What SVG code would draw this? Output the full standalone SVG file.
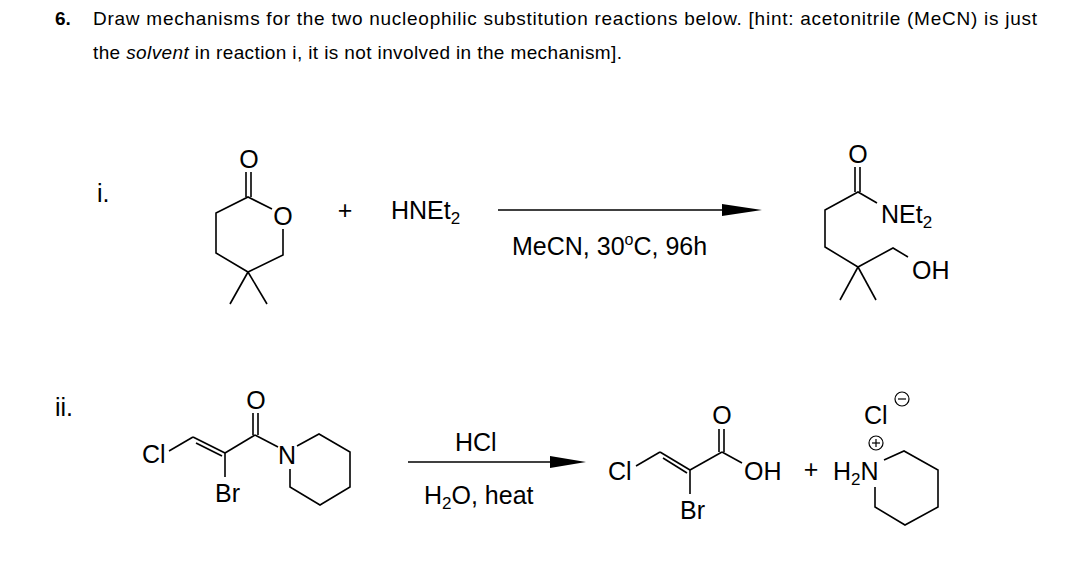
<svg xmlns="http://www.w3.org/2000/svg" width="1070" height="581" viewBox="0 0 1070 581">
<defs>
<style>
text{font-family:"Liberation Sans",Arial,sans-serif;fill:#000}
.h{font-size:19px}
.c{font-size:25px}
.s{font-size:17px}
line,polyline{stroke:#000;stroke-width:1.6;fill:none}
.ah{fill:#000;stroke:none}
</style>
</defs>
<rect width="1070" height="581" fill="#fff"/>
<text class="h" x="55" y="25" font-weight="bold">6.</text>
<text class="h" x="93" y="25" textLength="944">Draw mechanisms for the two nucleophilic substitution reactions below. [hint: acetonitrile (MeCN) is just</text>
<text class="h" x="93" y="59" textLength="529">the <tspan font-style="italic">solvent</tspan> in reaction i, it is not involved in the mechanism].</text>

<g id="lactone">
<text class="c" x="97" y="202">i.</text>
<text class="c" x="249" y="168" text-anchor="middle">O</text>
<line x1="246" y1="172" x2="246" y2="197"/><line x1="251" y1="172" x2="251" y2="197"/>
<polyline points="272,209 248,197 216,213 216,253 248,272 283,255 283,229"/>
<text class="c" x="283" y="225" text-anchor="middle">O</text>
<line x1="248" y1="272" x2="230" y2="304"/><line x1="248" y1="272" x2="267" y2="304"/>
</g>
<g id="amine">
<text class="c" x="345" y="219" text-anchor="middle">+</text>
<text class="c" x="391" y="219">HNEt<tspan class="s" dy="5">2</tspan></text>
</g>
<g id="amide">
<text class="c" x="858" y="163" text-anchor="middle">O</text>
<line x1="855" y1="167" x2="855" y2="192"/><line x1="860" y1="167" x2="860" y2="192"/>
<polyline points="877,203 858,192 825,210 825,247 858,267 893,248 908,257"/>
<text class="c" x="881" y="223">NEt<tspan class="s" dy="5">2</tspan></text>
<text class="c" x="912" y="279">OH</text>
<line x1="858" y1="267" x2="840" y2="300"/><line x1="858" y1="267" x2="876" y2="300"/>
</g>
<g id="amide2">
<text class="c" x="55" y="416">ii.</text>
<text class="c" x="142" y="463">Cl</text>
<line x1="169" y1="451" x2="193" y2="437"/>
<line x1="193" y1="437" x2="225" y2="453"/><line x1="196" y1="443" x2="222" y2="456"/>
<line x1="225" y1="453" x2="225" y2="477"/>
<text class="c" x="215" y="502">Br</text>
<line x1="225" y1="453" x2="255" y2="435"/>
<text class="c" x="256" y="409" text-anchor="middle">O</text>
<line x1="253" y1="413" x2="253" y2="435"/><line x1="258" y1="413" x2="258" y2="435"/>
<line x1="255" y1="435" x2="278" y2="447"/>
<text class="c" x="287" y="464" text-anchor="middle">N</text>
<polyline points="297,446 319,434 350,452 350,487 320,505 290,487 290,469"/>
</g>
<g id="acid">
<text class="c" x="608" y="480">Cl</text>
<line x1="636" y1="466" x2="660" y2="452"/>
<line x1="660" y1="452" x2="690" y2="470"/><line x1="663" y1="458" x2="687" y2="473"/>
<line x1="690" y1="470" x2="690" y2="494"/>
<text class="c" x="680" y="519">Br</text>
<line x1="690" y1="470" x2="722" y2="452"/>
<text class="c" x="722" y="424" text-anchor="middle">O</text>
<line x1="719" y1="429" x2="719" y2="452"/><line x1="724" y1="429" x2="724" y2="452"/>
<line x1="722" y1="452" x2="742" y2="463"/>
<text class="c" x="744" y="480">OH</text>
</g>
<g id="salt">
<text class="c" x="811" y="478" text-anchor="middle">+</text>
<text class="c" x="833" y="480">H<tspan class="s" dy="5">2</tspan><tspan dy="-5">N</tspan></text>
<polyline points="884,460 904,451 938,470 938,507 905,525 875,507 875,487"/>
<circle cx="876" cy="443" r="7" fill="none" stroke="#000" stroke-width="1.2"/>
<line x1="872" y1="443" x2="880" y2="443" style="stroke-width:1.2"/><line x1="876" y1="439" x2="876" y2="447" style="stroke-width:1.2"/>
<text class="c" x="864" y="424">Cl</text>
<circle cx="902" cy="399" r="7" fill="none" stroke="#000" stroke-width="1.2"/>
<line x1="898" y1="399" x2="906" y2="399" style="stroke-width:1.2"/>
</g>
<g id="connectors">
<line x1="498" y1="210" x2="725" y2="210"/>
<path class="ah" d="M722,204 L762,210 L722,216 Z"/>
<text class="c" x="512" y="255">MeCN, 30<tspan font-size="16" dy="-10">o</tspan><tspan dy="10">C, 96h</tspan></text>
<line x1="408" y1="462" x2="555" y2="462"/>
<path class="ah" d="M550,456 L586,462 L550,468 Z"/>
<text class="c" x="455" y="451">HCl</text>
<text class="c" x="424" y="504">H<tspan class="s" dy="5">2</tspan><tspan dy="-5">O, heat</tspan></text>
</g>
</svg>
